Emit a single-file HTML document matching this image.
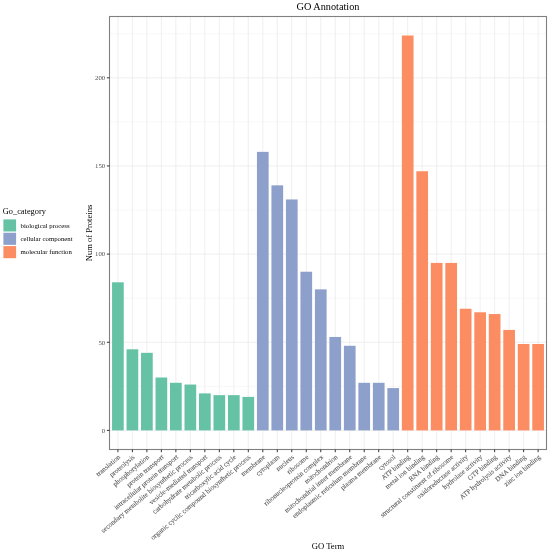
<!DOCTYPE html>
<html lang="en"><head><meta charset="utf-8"><title>GO Annotation</title>
<style>html,body{margin:0;padding:0;background:#fff}svg{display:block}</style></head>
<body>
<svg width="550" height="553" viewBox="0 0 550 553" font-family="'Liberation Serif', serif">
<rect width="550" height="553" fill="#fff"/>
<g stroke="#ebebeb" stroke-width="0.4"><line x1="109.5" x2="546.5" y1="386.32" y2="386.32"/><line x1="109.5" x2="546.5" y1="298.17" y2="298.17"/><line x1="109.5" x2="546.5" y1="210.02" y2="210.02"/><line x1="109.5" x2="546.5" y1="121.88" y2="121.88"/><line x1="109.5" x2="546.5" y1="33.73" y2="33.73"/></g>
<g stroke="#ebebeb" stroke-width="0.8"><line x1="109.5" x2="546.5" y1="430.4" y2="430.4"/><line x1="109.5" x2="546.5" y1="342.25" y2="342.25"/><line x1="109.5" x2="546.5" y1="254.1" y2="254.1"/><line x1="109.5" x2="546.5" y1="165.95" y2="165.95"/><line x1="109.5" x2="546.5" y1="77.8" y2="77.8"/><line x1="117.9" x2="117.9" y1="16.5" y2="449.5"/><line x1="132.39" x2="132.39" y1="16.5" y2="449.5"/><line x1="146.88" x2="146.88" y1="16.5" y2="449.5"/><line x1="161.37" x2="161.37" y1="16.5" y2="449.5"/><line x1="175.86" x2="175.86" y1="16.5" y2="449.5"/><line x1="190.35" x2="190.35" y1="16.5" y2="449.5"/><line x1="204.84" x2="204.84" y1="16.5" y2="449.5"/><line x1="219.33" x2="219.33" y1="16.5" y2="449.5"/><line x1="233.82" x2="233.82" y1="16.5" y2="449.5"/><line x1="248.31" x2="248.31" y1="16.5" y2="449.5"/><line x1="262.8" x2="262.8" y1="16.5" y2="449.5"/><line x1="277.29" x2="277.29" y1="16.5" y2="449.5"/><line x1="291.78" x2="291.78" y1="16.5" y2="449.5"/><line x1="306.27" x2="306.27" y1="16.5" y2="449.5"/><line x1="320.76" x2="320.76" y1="16.5" y2="449.5"/><line x1="335.25" x2="335.25" y1="16.5" y2="449.5"/><line x1="349.74" x2="349.74" y1="16.5" y2="449.5"/><line x1="364.23" x2="364.23" y1="16.5" y2="449.5"/><line x1="378.72" x2="378.72" y1="16.5" y2="449.5"/><line x1="393.21" x2="393.21" y1="16.5" y2="449.5"/><line x1="407.7" x2="407.7" y1="16.5" y2="449.5"/><line x1="422.19" x2="422.19" y1="16.5" y2="449.5"/><line x1="436.68" x2="436.68" y1="16.5" y2="449.5"/><line x1="451.17" x2="451.17" y1="16.5" y2="449.5"/><line x1="465.66" x2="465.66" y1="16.5" y2="449.5"/><line x1="480.15" x2="480.15" y1="16.5" y2="449.5"/><line x1="494.64" x2="494.64" y1="16.5" y2="449.5"/><line x1="509.13" x2="509.13" y1="16.5" y2="449.5"/><line x1="523.62" x2="523.62" y1="16.5" y2="449.5"/><line x1="538.11" x2="538.11" y1="16.5" y2="449.5"/></g>
<rect x="112.05" y="282.31" width="11.7" height="148.09" fill="#66C2A5"/>
<rect x="126.54" y="349.3" width="11.7" height="81.1" fill="#66C2A5"/>
<rect x="141.03" y="352.83" width="11.7" height="77.57" fill="#66C2A5"/>
<rect x="155.52" y="377.51" width="11.7" height="52.89" fill="#66C2A5"/>
<rect x="170.01" y="382.8" width="11.7" height="47.6" fill="#66C2A5"/>
<rect x="184.5" y="384.56" width="11.7" height="45.84" fill="#66C2A5"/>
<rect x="198.99" y="393.38" width="11.7" height="37.02" fill="#66C2A5"/>
<rect x="213.48" y="395.14" width="11.7" height="35.26" fill="#66C2A5"/>
<rect x="227.97" y="395.14" width="11.7" height="35.26" fill="#66C2A5"/>
<rect x="242.46" y="396.9" width="11.7" height="33.5" fill="#66C2A5"/>
<rect x="256.95" y="151.85" width="11.7" height="278.55" fill="#8DA0CB"/>
<rect x="271.44" y="185.34" width="11.7" height="245.06" fill="#8DA0CB"/>
<rect x="285.93" y="199.45" width="11.7" height="230.95" fill="#8DA0CB"/>
<rect x="300.42" y="271.73" width="11.7" height="158.67" fill="#8DA0CB"/>
<rect x="314.91" y="289.36" width="11.7" height="141.04" fill="#8DA0CB"/>
<rect x="329.4" y="336.96" width="11.7" height="93.44" fill="#8DA0CB"/>
<rect x="343.89" y="345.78" width="11.7" height="84.62" fill="#8DA0CB"/>
<rect x="358.38" y="382.8" width="11.7" height="47.6" fill="#8DA0CB"/>
<rect x="372.87" y="382.8" width="11.7" height="47.6" fill="#8DA0CB"/>
<rect x="387.36" y="388.09" width="11.7" height="42.31" fill="#8DA0CB"/>
<rect x="401.85" y="35.49" width="11.7" height="394.91" fill="#FC8D62"/>
<rect x="416.34" y="171.24" width="11.7" height="259.16" fill="#FC8D62"/>
<rect x="430.83" y="262.91" width="11.7" height="167.48" fill="#FC8D62"/>
<rect x="445.32" y="262.91" width="11.7" height="167.48" fill="#FC8D62"/>
<rect x="459.81" y="308.75" width="11.7" height="121.65" fill="#FC8D62"/>
<rect x="474.3" y="312.28" width="11.7" height="118.12" fill="#FC8D62"/>
<rect x="488.79" y="314.04" width="11.7" height="116.36" fill="#FC8D62"/>
<rect x="503.28" y="329.91" width="11.7" height="100.49" fill="#FC8D62"/>
<rect x="517.77" y="344.01" width="11.7" height="86.39" fill="#FC8D62"/>
<rect x="532.26" y="344.01" width="11.7" height="86.39" fill="#FC8D62"/>
<rect x="109.5" y="16.5" width="437" height="433" fill="none" stroke="#808080" stroke-width="1.1"/>
<g stroke="#333" stroke-width="1"><line x1="106.9" x2="109.5" y1="430.4" y2="430.4"/><line x1="106.9" x2="109.5" y1="342.25" y2="342.25"/><line x1="106.9" x2="109.5" y1="254.1" y2="254.1"/><line x1="106.9" x2="109.5" y1="165.95" y2="165.95"/><line x1="106.9" x2="109.5" y1="77.8" y2="77.8"/><line x1="117.9" x2="117.9" y1="449.5" y2="452.2"/><line x1="132.39" x2="132.39" y1="449.5" y2="452.2"/><line x1="146.88" x2="146.88" y1="449.5" y2="452.2"/><line x1="161.37" x2="161.37" y1="449.5" y2="452.2"/><line x1="175.86" x2="175.86" y1="449.5" y2="452.2"/><line x1="190.35" x2="190.35" y1="449.5" y2="452.2"/><line x1="204.84" x2="204.84" y1="449.5" y2="452.2"/><line x1="219.33" x2="219.33" y1="449.5" y2="452.2"/><line x1="233.82" x2="233.82" y1="449.5" y2="452.2"/><line x1="248.31" x2="248.31" y1="449.5" y2="452.2"/><line x1="262.8" x2="262.8" y1="449.5" y2="452.2"/><line x1="277.29" x2="277.29" y1="449.5" y2="452.2"/><line x1="291.78" x2="291.78" y1="449.5" y2="452.2"/><line x1="306.27" x2="306.27" y1="449.5" y2="452.2"/><line x1="320.76" x2="320.76" y1="449.5" y2="452.2"/><line x1="335.25" x2="335.25" y1="449.5" y2="452.2"/><line x1="349.74" x2="349.74" y1="449.5" y2="452.2"/><line x1="364.23" x2="364.23" y1="449.5" y2="452.2"/><line x1="378.72" x2="378.72" y1="449.5" y2="452.2"/><line x1="393.21" x2="393.21" y1="449.5" y2="452.2"/><line x1="407.7" x2="407.7" y1="449.5" y2="452.2"/><line x1="422.19" x2="422.19" y1="449.5" y2="452.2"/><line x1="436.68" x2="436.68" y1="449.5" y2="452.2"/><line x1="451.17" x2="451.17" y1="449.5" y2="452.2"/><line x1="465.66" x2="465.66" y1="449.5" y2="452.2"/><line x1="480.15" x2="480.15" y1="449.5" y2="452.2"/><line x1="494.64" x2="494.64" y1="449.5" y2="452.2"/><line x1="509.13" x2="509.13" y1="449.5" y2="452.2"/><line x1="523.62" x2="523.62" y1="449.5" y2="452.2"/><line x1="538.11" x2="538.11" y1="449.5" y2="452.2"/></g>
<g fill="#4d4d4d" font-size="6.75" text-anchor="end"><text x="105.2" y="432.7">0</text><text x="105.2" y="344.55">50</text><text x="105.2" y="256.4">100</text><text x="105.2" y="168.25">150</text><text x="105.2" y="80.1">200</text></g>
<g fill="#555" stroke="#555" stroke-width="0.07" font-size="6.95" text-anchor="end"><text transform="translate(120.7 457.8) rotate(-40)">translation</text><text transform="translate(135.19 457.8) rotate(-40)">proteolysis</text><text transform="translate(149.68 457.8) rotate(-40)">phosphorylation</text><text transform="translate(164.17 457.8) rotate(-40)">protein transport</text><text transform="translate(178.66 457.8) rotate(-40)">intracellular protein transport</text><text transform="translate(193.15 457.8) rotate(-40)">secondary metabolite biosynthetic process</text><text transform="translate(207.64 457.8) rotate(-40)">vesicle-mediated transport</text><text transform="translate(222.13 457.8) rotate(-40)">carbohydrate metabolic process</text><text transform="translate(236.62 457.8) rotate(-40)">tricarboxylic acid cycle</text><text transform="translate(251.11 457.8) rotate(-40)">organic cyclic compound biosynthetic process</text><text transform="translate(265.6 457.8) rotate(-40)">membrane</text><text transform="translate(280.09 457.8) rotate(-40)">cytoplasm</text><text transform="translate(294.58 457.8) rotate(-40)">nucleus</text><text transform="translate(309.07 457.8) rotate(-40)">ribosome</text><text transform="translate(323.56 457.8) rotate(-40)">ribonucleoprotein complex</text><text transform="translate(338.05 457.8) rotate(-40)">mitochondrion</text><text transform="translate(352.54 457.8) rotate(-40)">mitochondrial inner membrane</text><text transform="translate(367.03 457.8) rotate(-40)">endoplasmic reticulum membrane</text><text transform="translate(381.52 457.8) rotate(-40)">plasma membrane</text><text transform="translate(396.01 457.8) rotate(-40)">cytosol</text><text transform="translate(410.5 457.8) rotate(-40)">ATP binding</text><text transform="translate(424.99 457.8) rotate(-40)">metal ion binding</text><text transform="translate(439.48 457.8) rotate(-40)">RNA binding</text><text transform="translate(453.97 457.8) rotate(-40)">structural constituent of ribosome</text><text transform="translate(468.46 457.8) rotate(-40)">oxidoreductase activity</text><text transform="translate(482.95 457.8) rotate(-40)">hydrolase activity</text><text transform="translate(497.44 457.8) rotate(-40)">GTP binding</text><text transform="translate(511.93 457.8) rotate(-40)">ATP hydrolysis activity</text><text transform="translate(526.42 457.8) rotate(-40)">DNA binding</text><text transform="translate(540.91 457.8) rotate(-40)">zinc ion binding</text></g>
<text x="328" y="9.9" font-size="10.25" text-anchor="middle" fill="#000">GO Annotation</text>
<text x="328" y="548.5" font-size="8.65" text-anchor="middle" fill="#000">GO Term</text>
<text transform="translate(92.3 233) rotate(-90)" font-size="8.55" text-anchor="middle" fill="#000">Num of Proteins</text>
<text x="2.8" y="214" font-size="8.35" fill="#000">Go_category</text>
<rect x="3.4" y="219.4" width="12.7" height="12.1" fill="#66C2A5"/>
<text x="20.6" y="227.62" font-size="6.75" fill="#000">biological process</text>
<rect x="3.4" y="232.75" width="12.7" height="12.1" fill="#8DA0CB"/>
<text x="20.6" y="240.97" font-size="6.75" fill="#000">cellular component</text>
<rect x="3.4" y="246.1" width="12.7" height="12.1" fill="#FC8D62"/>
<text x="20.6" y="254.32" font-size="6.75" fill="#000">molecular function</text>
</svg>
</body></html>
